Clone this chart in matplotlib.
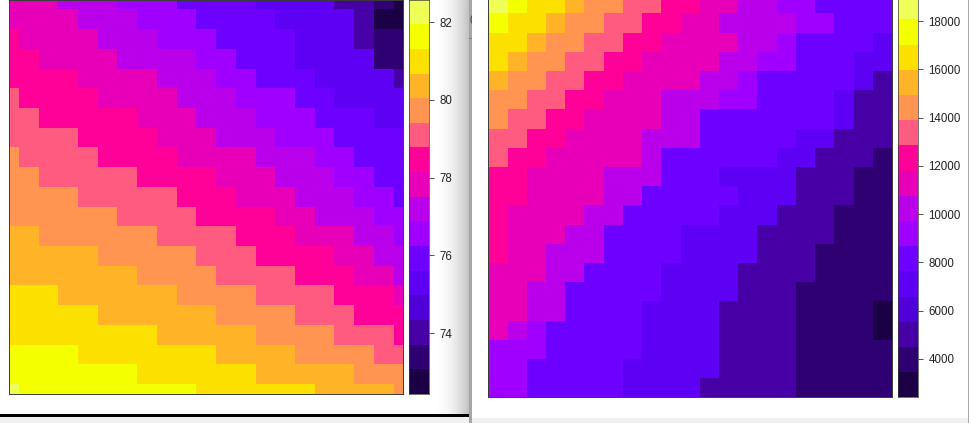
import numpy as np
import matplotlib
matplotlib.use("Agg")
import matplotlib.pyplot as plt
from matplotlib.colors import ListedColormap, BoundaryNorm
from matplotlib.patches import Rectangle

plt.rcParams['font.family'] = ['Liberation Sans', 'DejaVu Sans']

W, H = 970, 423

# colour bands, darkest first (shared by both panels)
band_colors = ["#1c0045", "#2f0072", "#4600a5", "#5000d8", "#5e00f4", "#6e00ff",
               "#a000ff", "#ba00ea", "#e800b8", "#ff0099", "#ff5a80", "#ff9550",
               "#ffb428", "#fbe000", "#f4ff00", "#f0ff55"]

# band index per cell (hex digit), top row first
left_rows = [
    "888 777 666 5555 4444 22 1 0",
    "8888 777 666 5555 4444 2 00",
    "9 8888 777 666 5555444 2 11",
    "99 8888 7777 66 5554444 11",
    "9999 8888 777 66 555 4444 2",
    "a 9999 8888 777 666 55 4444",
    "aa 99999 888 777 666 555 44",
    "aaaa 9999 888 777 666 5555",
    "b aaaa 9999 8888 777 66 555",
    "bb aaaaa 9999 888 777 66 55",
    "bbbb aaaaa 999 888 777 66 5",
    "bbbbbb aaaa 9999 88 777 66",
    "cc bbbbbb aaaa 999 888 77 6",
    "ccccc bbbbb aaa 9999 88 77",
    "ccccccc bbbb aaaa 999 88 7",
    "ddd cccccc bbbb aaaa 999 8",
    "ddddd cccccc bbbb aaa 999",
    "dddddddd ccccc bbbb aaa 9",
    "eeee ddddddd cccc bbbb aa",
    "eeeeeee dddddd ccccc bbb",
    "f eeeeeeeee dddddd cccc b",
]
right_rows = [
    "f e dd c bb aa 99 88 77 66 5555",
    "e dd c bb aa 99 88 7777 66 555",
    "dd c bb aa 99 88 88 77 6 5555 4",
    "d c bb aa 99 88 88 77 66 555 44",
    "c bb aa 99 88 88 77 6 55555 4 2",
    "bb aa 99 88 87 77 66 55554 22",
    "b aa 99 88 88 77 55555554 22",
    "aa 99 88 88 777 5555544 222",
    "a 99 88 888 7 55555544 222 1",
    "99 88 88 777 5554444 222 11",
    "99 88 88 77 55555444 222 11",
    "9 88 88 77 55555444 222 111",
    "9 8 88 77 55554444 2222 111",
    "9 88 777 55554444 222 1111",
    "8 88 77 55554444 2222 1111",
    "88 77 555554444 222 11111",
    "88 77 55554444 2222 1111 0",
    "8 76 555554444 2222 1111 0",
    "666 555554444 2222 11111",
    "66 5555544444 2222 11111",
    "66 555554444 22222 11111",
]

# colour bar scales
left_range = (72.44, 82.58)
right_range = (2411, 19119)
left_ticks = [74, 76, 78, 80, 82]
right_ticks = [4000, 6000, 8000, 10000, 12000, 14000, 16000, 18000]


def px_axes(x0, y0, x1, y1, **kw):
    # axes from pixel box, y measured from top of the image
    return fig.add_axes([x0 / W, 1 - y1 / H, (x1 - x0) / W, (y1 - y0) / H], **kw)


def rows_to_values(rows, edges):
    mids = (edges[:-1] + edges[1:]) / 2
    idx = [[int(ch, 16) for ch in r.replace(" ", "")] for r in rows]
    return mids[np.array(idx)]


def draw_panel(rows, vrange, ticks, map_box, bar_box, half_edges):
    edges = np.linspace(vrange[0], vrange[1], len(band_colors) + 1)
    cmap = ListedColormap(band_colors)
    norm = BoundaryNorm(edges, cmap.N)
    z = rows_to_values(rows, edges)

    ax = px_axes(*map_box)
    n = z.shape[0]
    x = np.arange(n)
    y = np.arange(n)[::-1]
    ax.pcolormesh(x, y, z, cmap=cmap, norm=norm, shading='nearest')
    if half_edges:
        ax.set_xlim(0, n - 1)
        ax.set_ylim(0, n - 1)
    else:
        ax.set_xlim(-0.5, n - 0.5)
        ax.set_ylim(-0.5, n - 0.5)
    ax.set_xticks([])
    ax.set_yticks([])
    for s in ax.spines.values():
        s.set_linewidth(0.7)
        s.set_color("#3a3a3a")

    cax = px_axes(*bar_box)
    cax.pcolormesh([0, 1], edges, np.array(edges[:-1] + 1e-6).reshape(-1, 1),
                   cmap=cmap, norm=norm)
    cax.set_ylim(edges[0], edges[-1])
    cax.set_xticks([])
    cax.yaxis.tick_right()
    cax.set_yticks(ticks)
    cax.tick_params(axis='y', length=3.6, width=0.6, pad=3.6, labelsize=8.3,
                    color="#333333", labelcolor="#222222")
    for s in cax.spines.values():
        s.set_linewidth(0.5)
        s.set_color("#3a3a3a")


fig = plt.figure(figsize=(W / 100, H / 100), dpi=100, facecolor="white")

# window chrome behind the two plots
bg = fig.add_axes([0, 0, 1, 1])
bg.axis("off")
shade = np.linspace(0, 1, 256)[None, :]
shade_col = 1 - 0.26 * shade ** 2.2
bg.imshow(shade_col, extent=(432, 470, 414, 0), cmap="gray", vmin=0, vmax=1, aspect="auto")
bg.add_patch(Rectangle((0, 417), 470, 6, color="#f0f0f0", lw=0))
bg.add_patch(Rectangle((0, 414.3), 469.5, 2.8, color="black", lw=0))
bg.add_patch(Rectangle((469.5, 0), 2.5, 423, color="#a6a6a6", lw=0, zorder=4))
bg.text(469.5, 21, "0", fontsize=8.3, color="#444444", va="center", ha="left", zorder=4.5)
bg.plot([469.5, 472], [38, 38], color="#777777", lw=0.6, zorder=4.5)
bg.add_patch(Rectangle((472, 0), 496, 423, color="white", lw=0, zorder=5))
bg.add_patch(Rectangle((472, 418), 496, 5, color="#f0f0f0", lw=0, zorder=6))
bg.add_patch(Rectangle((968, 0), 2, 423, color="#a8a8a8", lw=0, zorder=6))
bg.set_xlim(0, W)
bg.set_ylim(H, 0)

draw_panel(left_rows, left_range, left_ticks,
           (9, -0.4, 403.4, 393.8), (409.3, -0.4, 429.3, 393.8), True)
draw_panel(right_rows, right_range, right_ticks,
           (488.3, -5.9, 892, 397.3), (898.3, -5.9, 918.3, 397.3), False)

fig.savefig("out.png", dpi=100)
